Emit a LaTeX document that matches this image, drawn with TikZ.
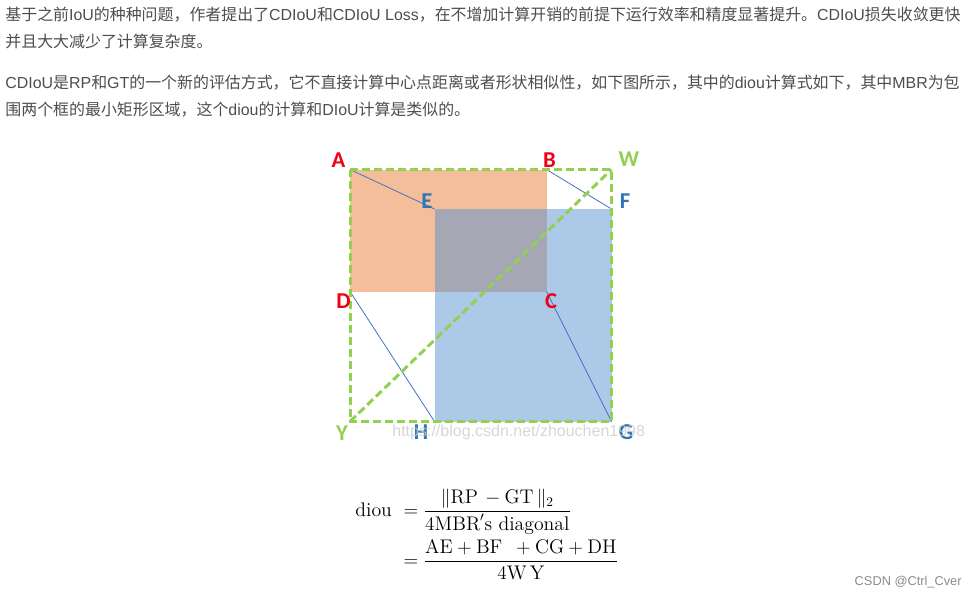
\documentclass[tikz,border=0pt]{standalone}
\usepackage{amsmath, amssymb}
\usepackage{fontspec}
\usepackage{tikz}
\newfontfamily\zhfont{Noto Sans CJK SC}
\newfontfamily\enfont{Liberation Sans}
\newfontfamily\lblfont{Carlito}
\newcommand{\en}[1]{{\enfont #1}}
\definecolor{txtgray}{RGB}{77,77,77}
\definecolor{rpfill}{RGB}{244,190,155}
\definecolor{gtfill}{RGB}{173,201,232}
\definecolor{ovfill}{RGB}{165,168,180}
\definecolor{lnblue}{RGB}{68,114,196}
\definecolor{mbrgreen}{RGB}{146,208,80}
\definecolor{lblred}{RGB}{240,0,20}
\definecolor{lblblue}{RGB}{46,117,182}

\begin{document}
\begin{tikzpicture}[x=0.75pt, y=-0.75pt, semithick]
\tikzstyle{para}=[anchor=base west, inner sep=0, text=txtgray, font=\zhfont\fontsize{11.95}{14}\selectfont]
\tikzstyle{lbl}=[inner sep=0, font=\lblfont\bfseries\fontsize{17}{17}\selectfont]
\tikzstyle{mbr}=[draw=mbrgreen, line width=2.25pt, dash pattern=on 6pt off 3pt]
\tikzstyle{gap}=[draw=lnblue, line width=0.6pt]
\useasboundingbox (0,0) rectangle (978,597);

% text above the figure
\node[para] (p1) at (5,20) {基于之前\en{IoU}的种种问题，作者提出了\en{CDIoU}和\en{CDIoU Loss}，在不增加计算开销的前提下运行效率和精度显著提升。\en{CDIoU}损失收敛更快};
\node[para] (p2) at (5,47) {并且大大减少了计算复杂度。};
\node[para] (p3) at (5,88) {\en{CDIoU}是\en{RP}和\en{GT}的一个新的评估方式，它不直接计算中心点距离或者形状相似性，如下图所示，其中的\en{diou}计算式如下，其中\en{MBR}为包};
\node[para] (p4) at (5,115.5) {围两个框的最小矩形区域，这个\en{diou}的计算和\en{DIoU}计算是类似的。};

% corners
\coordinate (A) at (350,169.5);
\coordinate (B) at (546.5,169.5);
\coordinate (W) at (611.5,169.5);
\coordinate (E) at (434.5,209);
\coordinate (F) at (611.5,209);
\coordinate (D) at (350,291.5);
\coordinate (C) at (546.5,291.5);
\coordinate (Y) at (350,421.5);
\coordinate (H) at (434.5,421.5);
\coordinate (G) at (611.5,421.5);

% RP, GT and their overlap
\fill[rpfill] (A) rectangle (C);
\fill[gtfill] (E) rectangle (G);
\fill[ovfill] (E) rectangle (C);

\path
(A) edge[gap] (E)
(B) edge[gap] (F)
(C) edge[gap] (G)
(D) edge[gap] (H)
;
\draw[mbr] (A) -- (W) -- (G) -- (Y) -- cycle;
\draw[mbr] (Y) -- (W);

% labels
\node[lbl, text=lblred]   (lA) at (338.5,160.5) {A};
\node[lbl, text=lblred]   (lB) at (549.5,160) {B};
\node[lbl, text=mbrgreen] (lW) at (629,159.5) {W};
\node[lbl, text=lblblue]  (lE) at (427,201) {E};
\node[lbl, text=lblblue]  (lF) at (625,201) {F};
\node[lbl, text=lblred]   (lD) at (343.5,301.5) {D};
\node[lbl, text=lblred]   (lC) at (551,301.5) {C};
\node[lbl, text=mbrgreen] (lY) at (342,433) {Y};
\node[lbl, text=lblblue]  (lH) at (421,432) {H};
\node[lbl, text=lblblue]  (lG) at (626,432) {G};
\node[anchor=west, inner sep=0, text=black!20, text opacity=0.8, font=\enfont\fontsize{12}{12}\selectfont] (wm) at (392,432.5) {https://blog.csdn.net/zhouchen1998};

% formula
\node[anchor=west, inner sep=0, font=\fontsize{14.8}{18}\selectfont] (eq) at (355,534.5) {$\begin{aligned}\mathrm{diou}\ &= \frac{\|\mathrm{RP}\,-\mathrm{GT}\,\|_2}{4\mathrm{MBR}'\mathrm{s\ diagonal}}\\ &= \frac{\mathrm{AE}+\mathrm{BF}\ \,+\mathrm{CG}+\mathrm{DH}}{4\mathrm{W\,Y}}\end{aligned}$};

\node[anchor=base east, inner sep=0, text=black!45, font=\enfont\fontsize{9.6}{10}\selectfont] (csdn) at (962,585.5) {CSDN @Ctrl\_Cver};
\end{tikzpicture}
\end{document}
